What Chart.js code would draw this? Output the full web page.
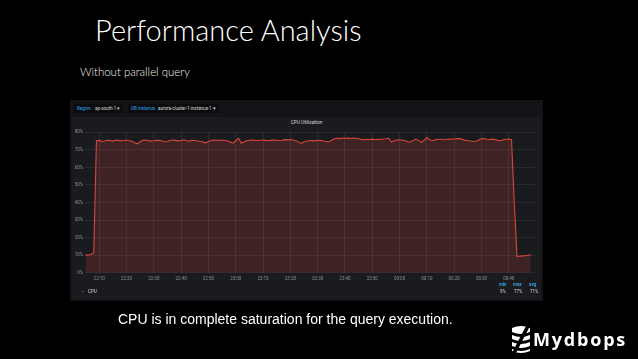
<!DOCTYPE html>
<html>
<head>
<meta charset="utf-8">
<script src="https://cdn.jsdelivr.net/npm/chart.js@4.4.1/dist/chart.umd.min.js"></script>
<style>
  html, body { margin: 0; padding: 0; background: #000; }
  #slide { position: relative; width: 638px; height: 359px; background: #000; overflow: hidden; font-family: Lato, sans-serif; color: #fff; }
  .title { position: absolute; left: 95px; top: 12px; font-size: 29px; font-weight: 300; white-space: nowrap; }
  .subtitle { position: absolute; left: 80px; top: 65px; font-size: 11.4px; font-weight: 300; color: #f2f2f2; white-space: nowrap; }
  .shot { position: absolute; left: 70px; top: 100px; width: 473px; height: 201px; background: #131417; }
  .panel { position: absolute; left: 72px; top: 117px; width: 469px; height: 182px; background: #1a1b1e; }
  .var { position: absolute; top: 104px; height: 9px; line-height: 9px; font-family: Roboto, sans-serif; font-size: 4.5px; padding: 0 3px; white-space: nowrap; }
  .var.lbl { color: #33a2e5; background: #0b0c0e; }
  .var.val { color: #d8d9da; background: #0b0c0e; }
  .ptitle { position: absolute; left: 72px; width: 469px; top: 120px; text-align: center; font-family: Roboto, sans-serif; font-size: 4.8px; color: #d8d9da; }
  #wrap { position: absolute; left: 70px; top: 116px; width: 473px; height: 184px; }
  .leg { position: absolute; font-family: Roboto, sans-serif; font-size: 4.5px; color: #d8d9da; white-space: nowrap; }
  .leg.h { color: #33a2e5; font-weight: bold; }
  .caption { position: absolute; left: 118px; top: 311px; font-family: "Liberation Sans", Arial, sans-serif; font-size: 14px; white-space: nowrap; }
  .logo { position: absolute; left: 510px; top: 324px; }
  .logotext { position: absolute; left: 533px; top: 327px; font-family: "Open Sans", sans-serif; font-weight: 700; font-size: 18px; letter-spacing: 1.8px; white-space: nowrap; }
</style>
</head>
<body>
<div id="slide">
  <div class="title">Performance Analysis</div>
  <div class="subtitle">Without parallel query</div>

  <div class="shot"></div>
  <div class="panel"></div>
  <div class="var lbl" style="left:74px">Region</div>
  <div class="var val" style="left:92px">ap-south-1 &#9662;</div>
  <div class="var lbl" style="left:128px">DB instance</div>
  <div class="var val" style="left:155px">aurora-cluster-1-instance-1 &#9662;</div>
  <div class="ptitle">CPU Utilization</div>

  <div id="wrap"><canvas id="cpuChart"></canvas></div>

  <div class="leg" style="left:81px;top:289px;color:#e0483e">&#8212;</div>
  <div class="leg" style="left:88px;top:289px">CPU</div>
  <div id="stats"></div>

  <div class="caption">CPU is in complete saturation for the query execution.</div>

  <svg class="logo" width="22" height="30" viewBox="0 0 22 30">
    <path d="M2 4 Q11 0 20 4 L20 8 Q11 12 2 8 Z" fill="#fff"/>
    <path d="M2 11 Q11 15 20 11 L20 15 Q11 19 2 15 Z" fill="#fff"/>
    <path d="M2 18 Q11 22 20 18 L20 22 Q11 26 2 22 Z" fill="#fff"/>
    <path d="M2 25 Q11 29 20 25 L20 27 Q11 31 2 27 Z" fill="#fff"/>
    <path d="M16 2 L20 2 L6 29 L2 29 Z" fill="#000"/>
  </svg>
  <div class="logotext">Mydbops</div>
</div>

<script>
// CPU utilization, one sample per minute starting at 22:05
const startMinute = 22 * 60 + 5;
const cpuValues = [
  10.0, 10.1, 10.4, 11.3, 75.2,
  75.4, 74.8, 75.0, 75.5, 75.3, 75.0, 75.6, 75.4, 75.1, 75.3,
  75.6, 75.2, 74.9, 74.0, 73.4, 74.6, 75.4, 75.6, 75.3, 75.0,
  75.2, 75.5, 75.4, 75.0, 74.6, 74.8, 75.3, 75.6, 75.4, 75.1,
  75.3, 75.7, 75.2, 75.0, 75.5, 75.3, 75.0, 74.8, 74.4, 74.0,
  74.7, 75.3, 75.6, 75.4, 75.5, 75.6, 75.3, 75.0, 74.4, 73.8,
  75.2, 76.6, 73.9, 74.5, 75.2, 75.5, 75.6, 75.4, 75.3, 75.5,
  75.6, 75.4, 75.2, 75.4, 75.6, 75.5, 75.3, 75.5, 75.8, 75.7,
  75.9, 75.6, 75.2, 74.4, 73.7, 74.6, 75.0, 75.2, 75.3, 75.1,
  75.3, 75.4, 75.0, 74.8, 74.5, 75.3, 76.2, 76.6, 76.4, 76.7,
  76.6, 76.8, 76.5, 76.7, 76.6, 76.3, 75.9, 75.8, 76.0, 75.9,
  76.1, 75.8, 76.0, 75.9, 76.2, 76.3, 76.6, 74.5, 75.2, 75.6,
  75.7, 75.5, 75.3, 74.6, 74.4, 75.4, 76.0, 75.4, 74.2, 75.5,
  77.0, 75.8, 75.2, 75.7, 76.0, 76.0, 75.8, 76.0, 76.1, 76.0,
  76.2, 76.4, 76.4, 76.0, 75.4, 75.2, 75.0, 74.8, 74.9, 75.6,
  76.4, 76.3, 76.0, 75.9, 76.1, 75.9, 75.4, 75.2, 75.8, 76.0,
  76.1, 75.8, 40.0, 9.3, 9.4, 9.6, 9.7, 9.9, 10.2
];
const yTicks = [0, 10, 20, 30, 40, 50, 60, 70, 80];
const statNames = ['min', 'max', 'avg'];
const statValues = ['9%', '77%', '71%'];

const cpuPoints = cpuValues.map((v, i) => ({ x: startMinute + i, y: v }));

const statX = [499, 513, 529];
const stats = document.getElementById('stats');
statNames.forEach((n, i) => {
  stats.insertAdjacentHTML('beforeend',
    `<div class="leg h" style="left:${statX[i]}px;top:282px">${n}</div>` +
    `<div class="leg" style="left:${statX[i] + 1}px;top:289px">${statValues[i]}</div>`);
});

const hhmm = v => {
  const m = ((v % 1440) + 1440) % 1440;
  const h = Math.floor(m / 60), mm = m % 60;
  return String(h).padStart(2, '0') + ':' + String(mm).padStart(2, '0');
};

const tickColor = '#8e9094';
const gridColor = 'rgba(255,255,255,0.07)';
const xMin = startMinute - 0.2;
const xMax = startMinute + 164.6;

new Chart(document.getElementById('cpuChart'), {
  type: 'line',
  data: {
    datasets: [{
      label: 'CPU',
      data: cpuPoints,
      borderColor: '#d9463c',
      borderWidth: 1.1,
      backgroundColor: 'rgba(214,70,62,0.2)',
      fill: 'origin',
      pointRadius: 0,
      tension: 0
    }]
  },
  options: {
    responsive: true,
    maintainAspectRatio: false,
    animation: false,
    layout: { padding: { left: 0, right: 8, top: 16.3, bottom: 17.3 } },
    plugins: { legend: { display: false }, tooltip: { enabled: false } },
    scales: {
      x: {
        type: 'linear',
        min: xMin,
        max: xMax,
        afterFit: s => { s.height = 10; },
        afterBuildTicks: s => {
          const ticks = [];
          for (let v = Math.ceil(xMin / 10) * 10; v <= xMax; v += 10) ticks.push({ value: v });
          s.ticks = ticks;
        },
        border: { display: false },
        grid: { color: gridColor, drawTicks: false },
        ticks: {
          padding: 3,
          color: tickColor,
          font: { family: 'Roboto', size: 4.5 },
          maxRotation: 0,
          autoSkip: false,
          callback: v => hhmm(v)
        }
      },
      y: {
        min: 0,
        max: 80,
        afterFit: s => { s.width = 15; },
        afterBuildTicks: s => { s.ticks = yTicks.map(v => ({ value: v })); },
        border: { display: false },
        grid: { color: gridColor, drawTicks: false },
        ticks: {
          padding: 2,
          color: tickColor,
          font: { family: 'Roboto', size: 4.5 },
          callback: v => v + '%'
        }
      }
    }
  }
});
</script>
</body>
</html>
